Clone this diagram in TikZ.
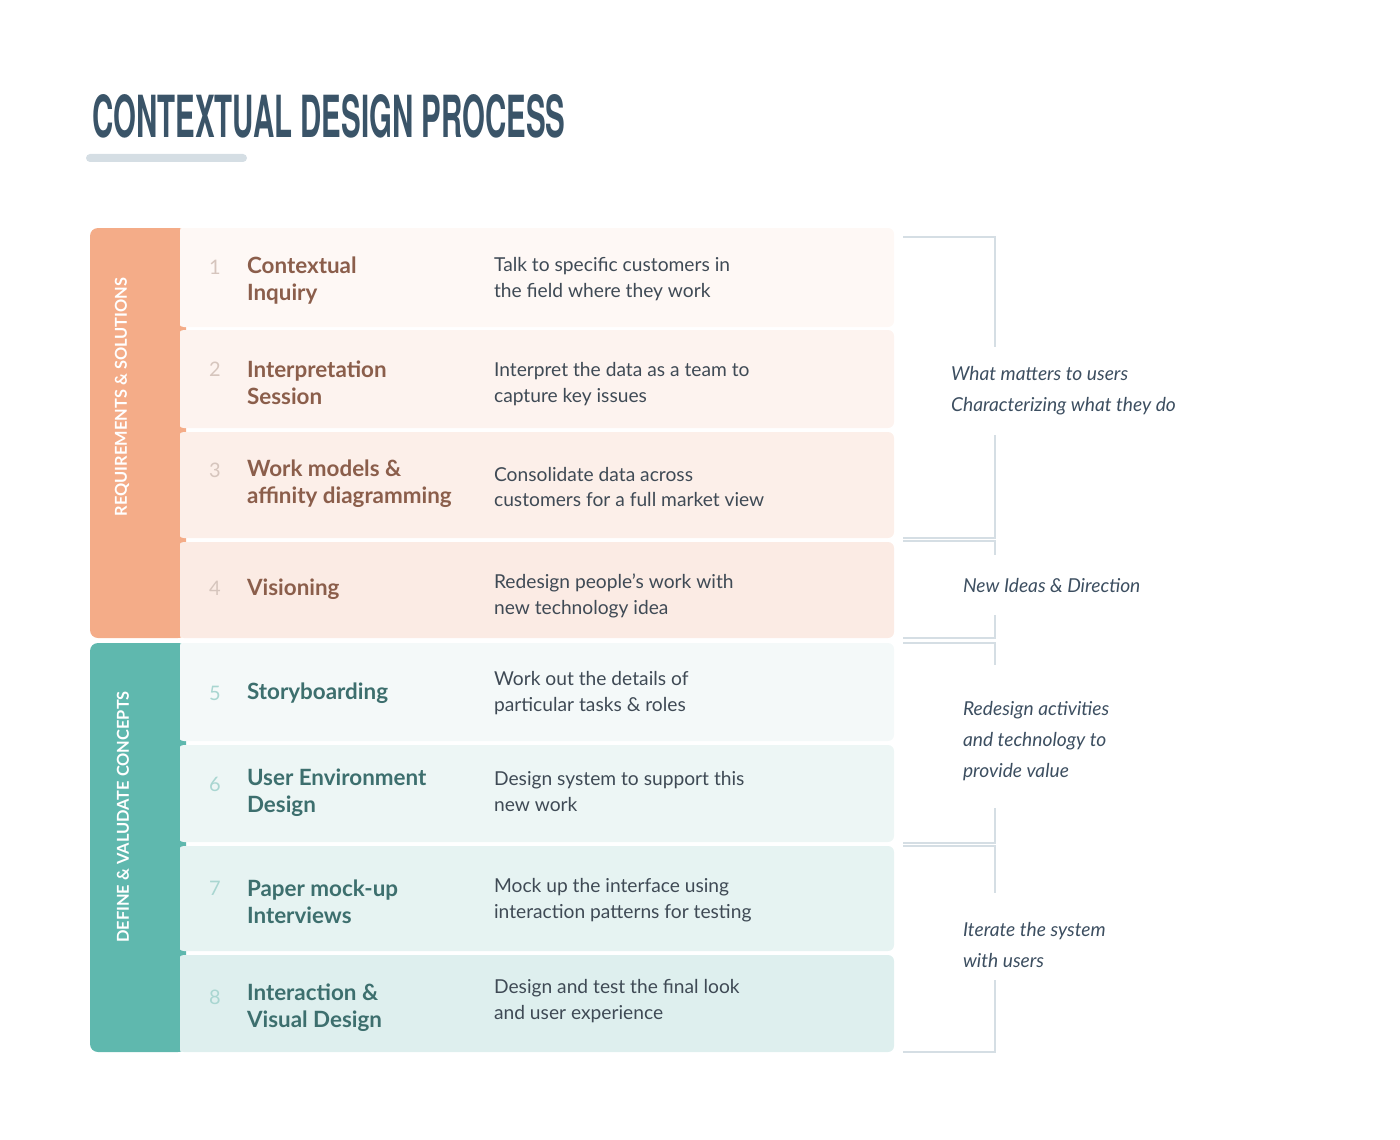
\documentclass[tikz,border=0pt]{standalone}
\usepackage{fontspec}
\setmainfont{Lato}
\newfontfamily\titlefont{TeX Gyre Heros}
\definecolor{orng}{HTML}{F4AC88}
\definecolor{brn}{HTML}{8B5E4B}
\definecolor{teal1}{HTML}{5FB8AE}
\definecolor{tealt}{HTML}{3D6F6E}
\definecolor{oa}{HTML}{FEF8F5}\definecolor{ob}{HTML}{FDF3EF}\definecolor{oc}{HTML}{FCEFE9}\definecolor{od}{HTML}{FBEBE4}
\definecolor{ta}{HTML}{F4F9F9}\definecolor{tb}{HTML}{EDF6F5}\definecolor{tc}{HTML}{E6F3F2}\definecolor{td}{HTML}{DEEFEE}
\definecolor{onum}{HTML}{D6C5BD}\definecolor{tnum}{HTML}{A9D6D1}
\definecolor{desc}{HTML}{3F4A55}\definecolor{ttl}{HTML}{3A5468}
\definecolor{brk}{HTML}{D5DEE4}\definecolor{itc}{HTML}{3C4E60}
\tikzset{
 rowbox/.style={rounded corners=3pt},
 num/.style={anchor=west,font=\fontsize{10}{13}\selectfont},
 stitle/.style={anchor=west,align=left,font=\bfseries\fontsize{11.2}{13.5}\selectfont},
 dsc/.style={anchor=west,align=left,text=desc,font=\fontsize{9.6}{13}\selectfont},
 note/.style={anchor=west,align=left,text=itc,font=\itshape\fontsize{9.6}{15.5}\selectfont},
 side/.style={rotate=90,text=white,font=\bfseries\fontsize{8.2}{10}\selectfont},
 bk/.style={draw=brk,line width=0.9pt}
}
\begin{document}
\begin{tikzpicture}[x=0.5pt,y=-0.5pt]
\useasboundingbox (0,0) rectangle (1400,1139);
\node[anchor=west,inner sep=0,text=ttl] (title) at (92,116) {\resizebox{473\dimexpr0.5pt\relax}{21.5pt}{\titlefont\bfseries CONTEXTUAL DESIGN PROCESS}};
\fill[brk,rounded corners=2pt] (86,154) rectangle (247,162);
% side bars
\fill[orng,rounded corners=4pt] (90,228) rectangle (186,638);
\fill[teal1,rounded corners=4pt] (90,643) rectangle (186,1052);
\node[side] (s1) at (122,397) {REQUIREMENTS \& SOLUTIONS};
\node[side] (s2) at (123,817) {DEFINE \& VALUDATE CONCEPTS};
% rows
\foreach \a/\b/\c in {228/327/oa,330/428/ob,432/538/oc,542/638/od,643/741/ta,745/842/tb,846/951/tc,955/1052/td}
  \fill[\c,rowbox] (178,\a) rectangle (894,\b);
\fill[orng] (178,228) rectangle (180,638);
\fill[teal1] (178,643) rectangle (180,1052);
% numbers
\foreach \n/\y/\c in {1/267/onum,2/369/onum,3/470/onum,4/588/onum,5/693/tnum,6/784/tnum,7/888/tnum,8/997/tnum}
  \node[num,text=\c] (n\n) at (202,\y) {\n};
% titles
\node[stitle,text=brn] (t1) at (240,281) {Contextual\\Inquiry};
\node[stitle,text=brn] (t2) at (240,383) {Interpretation\\Session};
\node[stitle,text=brn] (t3) at (240,484) {Work models \&\\affinity diagramming};
\node[stitle,text=brn] (t4) at (240,589) {Visioning};
\node[stitle,text=tealt] (t5) at (240,693) {Storyboarding};
\node[stitle,text=tealt] (t6) at (240,793) {User Environment\\Design};
\node[stitle,text=tealt] (t7) at (240,902) {Paper mock-up\\Interviews};
\node[stitle,text=tealt] (t8) at (240,1008) {Interaction \&\\Visual Design};
% descriptions
\node[dsc] (d1) at (487,279) {Talk to specific customers in\\the field where they work};
\node[dsc] (d2) at (487,384) {Interpret the data as a team to\\capture key issues};
\node[dsc] (d3) at (487,487) {Consolidate data across\\customers for a full market view};
\node[dsc] (d4) at (487,596) {Redesign people’s work with\\new technology idea};
\node[dsc] (d5) at (487,693) {Work out the details of\\particular tasks \& roles};
\node[dsc] (d6) at (487,791) {Design system to support this\\new work};
\node[dsc] (d7) at (487,900) {Mock up the interface using\\interaction patterns for testing};
\node[dsc] (d8) at (487,1001) {Design and test the final look\\and user experience};
% brackets
\draw[bk] (903,237) -- (995,237) -- (995,347);
\draw[bk] (995,435) -- (995,538) -- (903,538);
\draw[bk] (903,541) -- (995,541) -- (995,555);
\draw[bk] (995,615) -- (995,638) -- (903,638);
\draw[bk] (903,643) -- (995,643) -- (995,665);
\draw[bk] (995,808) -- (995,843) -- (903,843);
\draw[bk] (903,846) -- (995,846) -- (995,893);
\draw[bk] (995,980) -- (995,1052) -- (903,1052);
\node[note] (b1) at (944,391) {What matters to users\\Characterizing what they do};
\node[note] (b2) at (956,585) {New Ideas \& Direction};
\node[note] (b3) at (956,741) {Redesign activities\\and technology to\\provide value};
\node[note] (b4) at (956,945) {Iterate the system\\with users};
\end{tikzpicture}
\end{document}
